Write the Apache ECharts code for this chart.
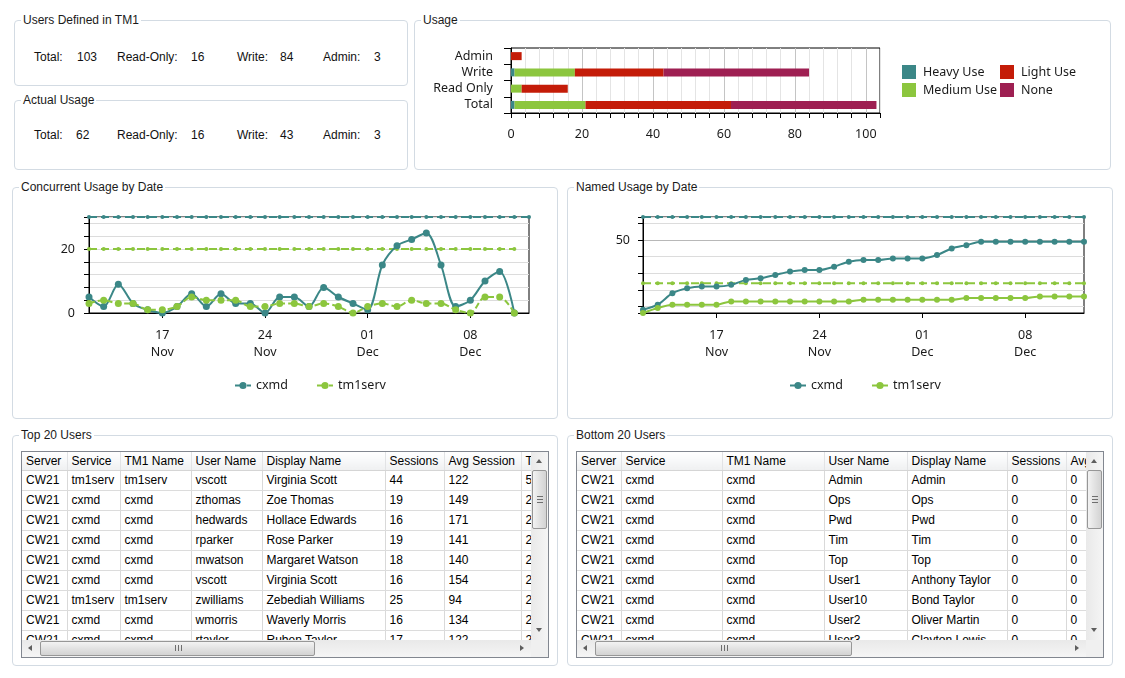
<!DOCTYPE html>
<html>
<head>
<meta charset="utf-8">
<script src="https://cdn.jsdelivr.net/npm/echarts@6/dist/echarts.min.js"></script>
<style>
html,body{margin:0;padding:0;background:#fff;}
body{font-family:"Liberation Sans",Arial,sans-serif;font-size:12px;color:#111;}
#page{position:relative;width:1125px;height:678px;overflow:hidden;}
.panel{position:absolute;border:1px solid #D3DBE3;border-radius:4px;box-sizing:border-box;}
.ptitle{position:absolute;left:6px;top:-8px;background:#fff;padding:0 2px;line-height:14px;font-size:12px;color:#1a1a1a;white-space:nowrap;}
.stat{position:absolute;line-height:14px;font-size:12px;color:#111;white-space:nowrap;}
.chart{position:absolute;}
.dg{position:absolute;border:1px solid #828790;box-sizing:border-box;background:#fff;overflow:hidden;}
.vp{position:absolute;left:0;top:0;right:17px;bottom:17px;overflow:hidden;}
.dg table{border-collapse:collapse;table-layout:fixed;font-size:12px;font-family:"Liberation Sans",Arial,sans-serif;}
.dg th{height:18px;padding:0 0 0 4px;text-align:left;font-weight:normal;color:#000;white-space:nowrap;overflow:hidden;
  background:linear-gradient(#ffffff,#f7f8f9 50%,#eff0f1);border-right:1px solid #E2E3E5;border-bottom:1px solid #D5D5D5;line-height:18px;}
.dg td{height:19px;padding:0 0 0 4px;white-space:nowrap;overflow:hidden;color:#000;border-right:1px solid #D9D9D9;border-bottom:1px solid #DCDCDC;line-height:19px;}
.vs{position:absolute;right:0;top:0;width:17px;bottom:17px;background:linear-gradient(to right,#E9E9E9,#F5F5F5);}
.hs{position:absolute;left:0;bottom:0;height:17px;right:17px;background:linear-gradient(#E9E9E9,#F5F5F5);}
.corner{position:absolute;right:0;bottom:0;width:17px;height:17px;background:#F0F0F0;}
.thumbv{position:absolute;left:1px;width:13px;border:1px solid #979797;border-radius:2px;background:linear-gradient(to right,#F3F3F3,#E2E2E2 50%,#D3D3D3);}
.thumbh{position:absolute;top:1px;height:13px;border:1px solid #979797;border-radius:2px;background:linear-gradient(#F3F3F3,#E2E2E2 50%,#D3D3D3);}
.gripv{position:absolute;left:4px;width:6px;height:7px;background:repeating-linear-gradient(to bottom,#6E6E6E 0,#6E6E6E 1px,transparent 1px,transparent 3px);}
.griph{position:absolute;top:3px;width:7px;height:6px;background:repeating-linear-gradient(to right,#6E6E6E 0,#6E6E6E 1px,transparent 1px,transparent 3px);}
.arr{position:absolute;width:0;height:0;}
</style>
</head>
<body>
<div id="page"></div>
<script>
// ---------------- DATA ----------------
const definedStats = [['Total:', '103'], ['Read-Only:', '16'], ['Write:', '84'], ['Admin:', '3']];
const actualStats = [['Total:', '62'], ['Read-Only:', '16'], ['Write:', '43'], ['Admin:', '3']];

const usageCategories = ['Total', 'Read Only', 'Write', 'Admin'];
const heavyUse = [1, 0, 1, 0];
const mediumUse = [20, 3, 17, 0];
const lightUse = [41, 13, 25, 3];
const noneUse = [41, 0, 41, 0];

const dates = ['12 Nov','13 Nov','14 Nov','15 Nov','16 Nov','17 Nov','18 Nov','19 Nov','20 Nov','21 Nov','22 Nov','23 Nov','24 Nov','25 Nov','26 Nov','27 Nov','28 Nov','29 Nov','30 Nov','01 Dec','02 Dec','03 Dec','04 Dec','05 Dec','06 Dec','07 Dec','08 Dec','09 Dec','10 Dec','11 Dec','12 Dec'];
const dateTickLabels = ['17 Nov', '24 Nov', '01 Dec', '08 Dec'];

const concCxmd = [5,2,9,3,1,0,2,6,2,6,3,3,0,5,5,2,8,5,3,1,15,21,23,25,15,2,4,10,13,0,null];
const concTm1serv = [3,4,3,3,1,1,2,5,4,4,4,2,2,3,3,2,3,2,0,2,3,2,4,3,3,1,0,5,5,0,null];
const concCxmdMax = [30,30,30,30,30,30,30,30,30,30,30,30,30,30,30,30,30,30,30,30,30,30,30,30,30,30,30,30,30,30,30];
const concTm1servMax = [20,20,20,20,20,20,20,20,20,20,20,20,20,20,20,20,20,20,20,20,20,20,20,20,20,20,20,20,20,20,null];
const concTicksLabelled = [0, 20];

const namedCxmd = [8,11,18,21,22,22,23,26,27,29,31,32,32,34,37,38,38,39,39,39,41,45,47,49,49,49,49,49,49,49,49];
const namedTm1serv = [6,9,11,11,11,11,13,13,13,13,13,13,13,13,13,14,14,14,14,14,14,14,15,15,15,15,15,16,16,16,16];
const namedCxmdMax = [64,64,64,64,64,64,64,64,64,64,64,64,64,64,64,64,64,64,64,64,64,64,64,64,64,64,64,64,64,64,64];
const namedTm1servMax = [24,24,24,24,24,24,24,24,24,24,24,24,24,24,24,24,24,24,24,24,24,24,24,24,24,24,24,24,24,24,24];
const namedTicksLabelled = [50];

const topHeaders = ['Server', 'Service', 'TM1 Name', 'User Name', 'Display Name', 'Sessions', 'Avg Session', 'Total Time'];
const topRows = [
  ['CW21', 'tm1serv', 'tm1serv', 'vscott', 'Virginia Scott', '44', '122', '5368'],
  ['CW21', 'cxmd', 'cxmd', 'zthomas', 'Zoe Thomas', '19', '149', '2831'],
  ['CW21', 'cxmd', 'cxmd', 'hedwards', 'Hollace Edwards', '16', '171', '2736'],
  ['CW21', 'cxmd', 'cxmd', 'rparker', 'Rose Parker', '19', '141', '2679'],
  ['CW21', 'cxmd', 'cxmd', 'mwatson', 'Margaret Watson', '18', '140', '2520'],
  ['CW21', 'cxmd', 'cxmd', 'vscott', 'Virginia Scott', '16', '154', '2464'],
  ['CW21', 'tm1serv', 'tm1serv', 'zwilliams', 'Zebediah Williams', '25', '94', '2350'],
  ['CW21', 'cxmd', 'cxmd', 'wmorris', 'Waverly Morris', '16', '134', '2144'],
  ['CW21', 'cxmd', 'cxmd', 'rtaylor', 'Ruben Taylor', '17', '122', '2074']
];
const bottomHeaders = ['Server', 'Service', 'TM1 Name', 'User Name', 'Display Name', 'Sessions', 'Avg Session', 'Total Time'];
const bottomRows = [
  ['CW21', 'cxmd', 'cxmd', 'Admin', 'Admin', '0', '0', '0'],
  ['CW21', 'cxmd', 'cxmd', 'Ops', 'Ops', '0', '0', '0'],
  ['CW21', 'cxmd', 'cxmd', 'Pwd', 'Pwd', '0', '0', '0'],
  ['CW21', 'cxmd', 'cxmd', 'Tim', 'Tim', '0', '0', '0'],
  ['CW21', 'cxmd', 'cxmd', 'Top', 'Top', '0', '0', '0'],
  ['CW21', 'cxmd', 'cxmd', 'User1', 'Anthony Taylor', '0', '0', '0'],
  ['CW21', 'cxmd', 'cxmd', 'User10', 'Bond Taylor', '0', '0', '0'],
  ['CW21', 'cxmd', 'cxmd', 'User2', 'Oliver Martin', '0', '0', '0'],
  ['CW21', 'cxmd', 'cxmd', 'User3', 'Clayton Lewis', '0', '0', '0']
];

// ---------------- LAYOUT ----------------
const TEAL = '#3B8787', GREEN = '#8CC63E', RED = '#C41C08', MAROON = '#9E1F52';
const CFONT = '"Noto Sans", "Open Sans", sans-serif';
const page = document.getElementById('page');

function el(tag, cls, style, html) {
  const e = document.createElement(tag);
  if (cls) e.className = cls;
  if (style) e.style.cssText = style;
  if (html != null) e.innerHTML = html;
  return e;
}
function panel(l, t, w, h, title) {
  const p = el('div', 'panel', `left:${l}px;top:${t}px;width:${w}px;height:${h}px;`);
  p.appendChild(el('span', 'ptitle', '', title));
  page.appendChild(p);
  return p;
}

panel(14, 20, 394, 66, 'Users Defined in TM1');
panel(14, 100, 394, 70, 'Actual Usage');
panel(414, 20, 697, 150, 'Usage');
panel(12, 187, 546, 232, 'Concurrent Usage by Date');
panel(567, 187, 546, 232, 'Named Usage by Date');
panel(12, 435, 546, 231, 'Top 20 Users');
panel(567, 435, 546, 231, 'Bottom 20 Users');

const statLabelX = [34, 117, 237, 323];
const statValueX = [[77, 191, 280, 374], [76, 191, 280, 374]];
[[definedStats, 50], [actualStats, 128]].forEach(([stats, y], r) => {
  stats.forEach((s, i) => {
    page.appendChild(el('span', 'stat', `left:${statLabelX[i]}px;top:${y}px;`, s[0]));
    page.appendChild(el('span', 'stat', `left:${statValueX[r][i]}px;top:${y}px;`, s[1]));
  });
});

// ---------------- TABLES ----------------
function arrow(dir, x, y) {
  let s = `left:${x}px;top:${y}px;`;
  if (dir === 'up') s += 'border-left:3.5px solid transparent;border-right:3.5px solid transparent;border-bottom:4px solid #5E5E5E;';
  if (dir === 'down') s += 'border-left:3.5px solid transparent;border-right:3.5px solid transparent;border-top:4px solid #5E5E5E;';
  if (dir === 'left') s += 'border-top:3.5px solid transparent;border-bottom:3.5px solid transparent;border-right:4px solid #5E5E5E;';
  if (dir === 'right') s += 'border-top:3.5px solid transparent;border-bottom:3.5px solid transparent;border-left:4px solid #5E5E5E;';
  return el('div', 'arr', s);
}
function dataGrid(left, top, width, height, headers, rows, colWidths, hThumbLeft, hThumbWidth) {
  const g = el('div', 'dg', `left:${left}px;top:${top}px;width:${width}px;height:${height}px;`);
  const vp = el('div', 'vp');
  const tbl = document.createElement('table');
  const total = colWidths.reduce((a, b) => a + b, 0);
  tbl.style.width = total + 'px';
  const cg = document.createElement('colgroup');
  colWidths.forEach(w => { const c = document.createElement('col'); c.style.width = w + 'px'; cg.appendChild(c); });
  tbl.appendChild(cg);
  const hr = document.createElement('tr');
  headers.forEach(h => { const th = document.createElement('th'); th.textContent = h; hr.appendChild(th); });
  tbl.appendChild(hr);
  rows.forEach(r => {
    const tr = document.createElement('tr');
    r.forEach(v => { const td = document.createElement('td'); td.textContent = v; tr.appendChild(td); });
    tbl.appendChild(tr);
  });
  vp.appendChild(tbl);
  g.appendChild(vp);
  const vs = el('div', 'vs');
  vs.appendChild(arrow('up', 5, 7));
  vs.appendChild(arrow('down', 5, height - 2 - 17 - 12));
  const tv = el('div', 'thumbv', 'top:18px;height:57px;');
  tv.appendChild(el('div', 'gripv', 'top:25px;'));
  vs.appendChild(tv);
  g.appendChild(vs);
  const hs = el('div', 'hs');
  hs.appendChild(arrow('left', 6, 5));
  hs.appendChild(arrow('right', width - 2 - 17 - 11, 5));
  const th = el('div', 'thumbh', `left:${hThumbLeft}px;width:${hThumbWidth}px;`);
  th.appendChild(el('div', 'griph', `left:${Math.round(hThumbWidth / 2 - 3)}px;`));
  hs.appendChild(th);
  g.appendChild(hs);
  g.appendChild(el('div', 'corner'));
  page.appendChild(g);
}
dataGrid(21, 451, 528, 207, topHeaders, topRows, [45, 53, 71, 71, 123, 59, 77, 80], 18, 273);
dataGrid(576, 451, 528, 207, bottomHeaders, bottomRows, [44, 101, 102, 83, 100, 59, 80, 80], 18, 255);

// ---------------- CHARTS ----------------
function mkChart(l, t, w, h) {
  const d = el('div', 'chart', `left:${l}px;top:${t}px;width:${w}px;height:${h}px;`);
  page.appendChild(d);
  return echarts.init(d, null, { renderer: 'canvas' });
}
const labelStyle = { fontFamily: CFONT, fontSize: 12.5, color: '#1a1a1a' };

// Usage stacked bar chart
const usage = mkChart(416, 22, 694, 146);
const minorGrid = ['#C4C4C4', '#E4E4E4', '#E4E4E4', '#E4E4E4', '#E4E4E4'];
usage.setOption({
  animation: false,
  textStyle: { fontFamily: CFONT },
  grid: { left: 95, top: 26, width: 369, height: 65, show: true, borderColor: '#000', borderWidth: 1 },
  xAxis: {
    type: 'value', min: 0, max: 104, interval: 4,
    axisLine: { show: true, lineStyle: { color: '#000', width: 1 } },
    axisTick: { show: true, length: 5, lineStyle: { color: '#000' } },
    axisLabel: Object.assign({ margin: 15, formatter: v => (v % 20 === 0 ? String(v) : '') }, labelStyle),
    splitLine: { show: true, lineStyle: { color: minorGrid, width: 1 } }
  },
  yAxis: {
    type: 'category', data: usageCategories,
    axisLine: { show: true, lineStyle: { color: '#000' } },
    axisTick: { show: true, length: 7, lineStyle: { color: '#000' } },
    axisLabel: Object.assign({ margin: 18, interval: 0, hideOverlap: false }, labelStyle),
    splitLine: { show: false }
  },
  legend: [
    { data: ['Heavy Use', 'Medium Use'], orient: 'vertical', left: 481, top: 38, itemWidth: 14, itemHeight: 14, itemGap: 4, icon: 'rect',
      textStyle: Object.assign({ padding: [0, 0, 0, 2] }, labelStyle), selectedMode: false },
    { data: ['Light Use', 'None'], orient: 'vertical', left: 579, top: 38, itemWidth: 14, itemHeight: 14, itemGap: 4, icon: 'rect',
      textStyle: Object.assign({ padding: [0, 0, 0, 2] }, labelStyle), selectedMode: false }
  ],
  series: [
    { name: 'Heavy Use', type: 'bar', stack: 'u', data: heavyUse, barWidth: 8, itemStyle: { color: TEAL } },
    { name: 'Medium Use', type: 'bar', stack: 'u', data: mediumUse, barWidth: 8, itemStyle: { color: GREEN } },
    { name: 'Light Use', type: 'bar', stack: 'u', data: lightUse, barWidth: 8, itemStyle: { color: RED } },
    { name: 'None', type: 'bar', stack: 'u', data: noneUse, barWidth: 8, itemStyle: { color: MAROON } }
  ]
});

function dateXAxis() {
  const show = (i, v) => dateTickLabels.indexOf(v) >= 0;
  return {
    type: 'category', data: dates, boundaryGap: false,
    axisLine: { show: true, lineStyle: { color: '#000' } },
    axisTick: { show: true, interval: show, length: 5, lineStyle: { color: '#000' } },
    axisLabel: Object.assign({ interval: show, margin: 14, lineHeight: 17, formatter: v => v.replace(' ', '\n') }, labelStyle),
    splitLine: { show: false }
  };
}
function lineSeries(name, data, color, opts) {
  return Object.assign({
    name: name, type: 'line', data: data, symbol: 'circle', showSymbol: true, showAllSymbol: true,
    connectNulls: false, itemStyle: { color: color }, lineStyle: { color: color, width: 2 }
  }, opts);
}

// Concurrent usage
const conc = mkChart(13, 195, 544, 222);
conc.setOption({
  animation: false,
  textStyle: { fontFamily: CFONT },
  grid: { left: 76, top: 22, width: 440, height: 96, show: true, borderColor: '#000', borderWidth: 1 },
  xAxis: dateXAxis(),
  yAxis: {
    type: 'value', min: 0, max: 30, interval: 4,
    axisLine: { show: true, lineStyle: { color: '#000' } },
    axisTick: { show: true, length: 5, lineStyle: { color: '#000' } },
    axisLabel: Object.assign({ margin: 14, formatter: v => (concTicksLabelled.indexOf(v) >= 0 ? String(v) : '') }, labelStyle),
    splitLine: { show: true, lineStyle: { color: '#DCDCDC' } }
  },
  legend: { data: ['cxmd', 'tm1serv'], left: 216, top: 179, itemWidth: 16, itemHeight: 9, itemGap: 28,
    textStyle: labelStyle, selectedMode: false },
  series: [
    lineSeries('cxmd', concCxmdMax, TEAL, { symbolSize: 4, z: 2, lineStyle: { color: TEAL, width: 2, type: [8, 4] } }),
    lineSeries('tm1serv', concTm1servMax, GREEN, { symbolSize: 4, z: 2, lineStyle: { color: GREEN, width: 2, type: [8, 4] } }),
    lineSeries('cxmd', concCxmd, TEAL, { symbolSize: 7, smooth: 0.3, z: 3 }),
    lineSeries('tm1serv', concTm1serv, GREEN, { symbolSize: 7, smooth: 0.3, z: 4, lineStyle: { color: GREEN, width: 2, type: [6, 3] } })
  ]
});

// Named usage
const named = mkChart(568, 195, 544, 222);
const namedGrid = ['#DCDCDC', '#DCDCDC', '#DCDCDC', '#DCDCDC', '#DCDCDC', '#B8B8B8', '#DCDCDC', '#DCDCDC'];
named.setOption({
  animation: false,
  textStyle: { fontFamily: CFONT },
  grid: { left: 75, top: 22, width: 441, height: 96, show: true, borderColor: '#000', borderWidth: 1 },
  xAxis: dateXAxis(),
  yAxis: {
    type: 'value', min: 6, max: 64, splitNumber: 5,
    axisLine: { show: true, lineStyle: { color: '#000' } },
    axisTick: { show: true, length: 5, lineStyle: { color: '#000' } },
    axisLabel: Object.assign({ margin: 13, formatter: v => (namedTicksLabelled.indexOf(v) >= 0 ? String(v) : '') }, labelStyle),
    splitLine: { show: true, lineStyle: { color: namedGrid } }
  },
  legend: { data: ['cxmd', 'tm1serv'], left: 216, top: 179, itemWidth: 16, itemHeight: 9, itemGap: 28,
    textStyle: labelStyle, selectedMode: false },
  series: [
    lineSeries('cxmd', namedCxmd, TEAL, { symbolSize: 6, smooth: 0.3, z: 3 }),
    lineSeries('tm1serv', namedTm1serv, GREEN, { symbolSize: 6, smooth: 0.3, z: 4 }),
    lineSeries('cxmd', namedCxmdMax, TEAL, { symbolSize: 4, z: 2, lineStyle: { color: TEAL, width: 2, type: [8, 4] } }),
    lineSeries('tm1serv', namedTm1servMax, GREEN, { symbolSize: 4, z: 2, lineStyle: { color: GREEN, width: 2, type: [8, 4] } })
  ]
});
</script>
</body>
</html>
